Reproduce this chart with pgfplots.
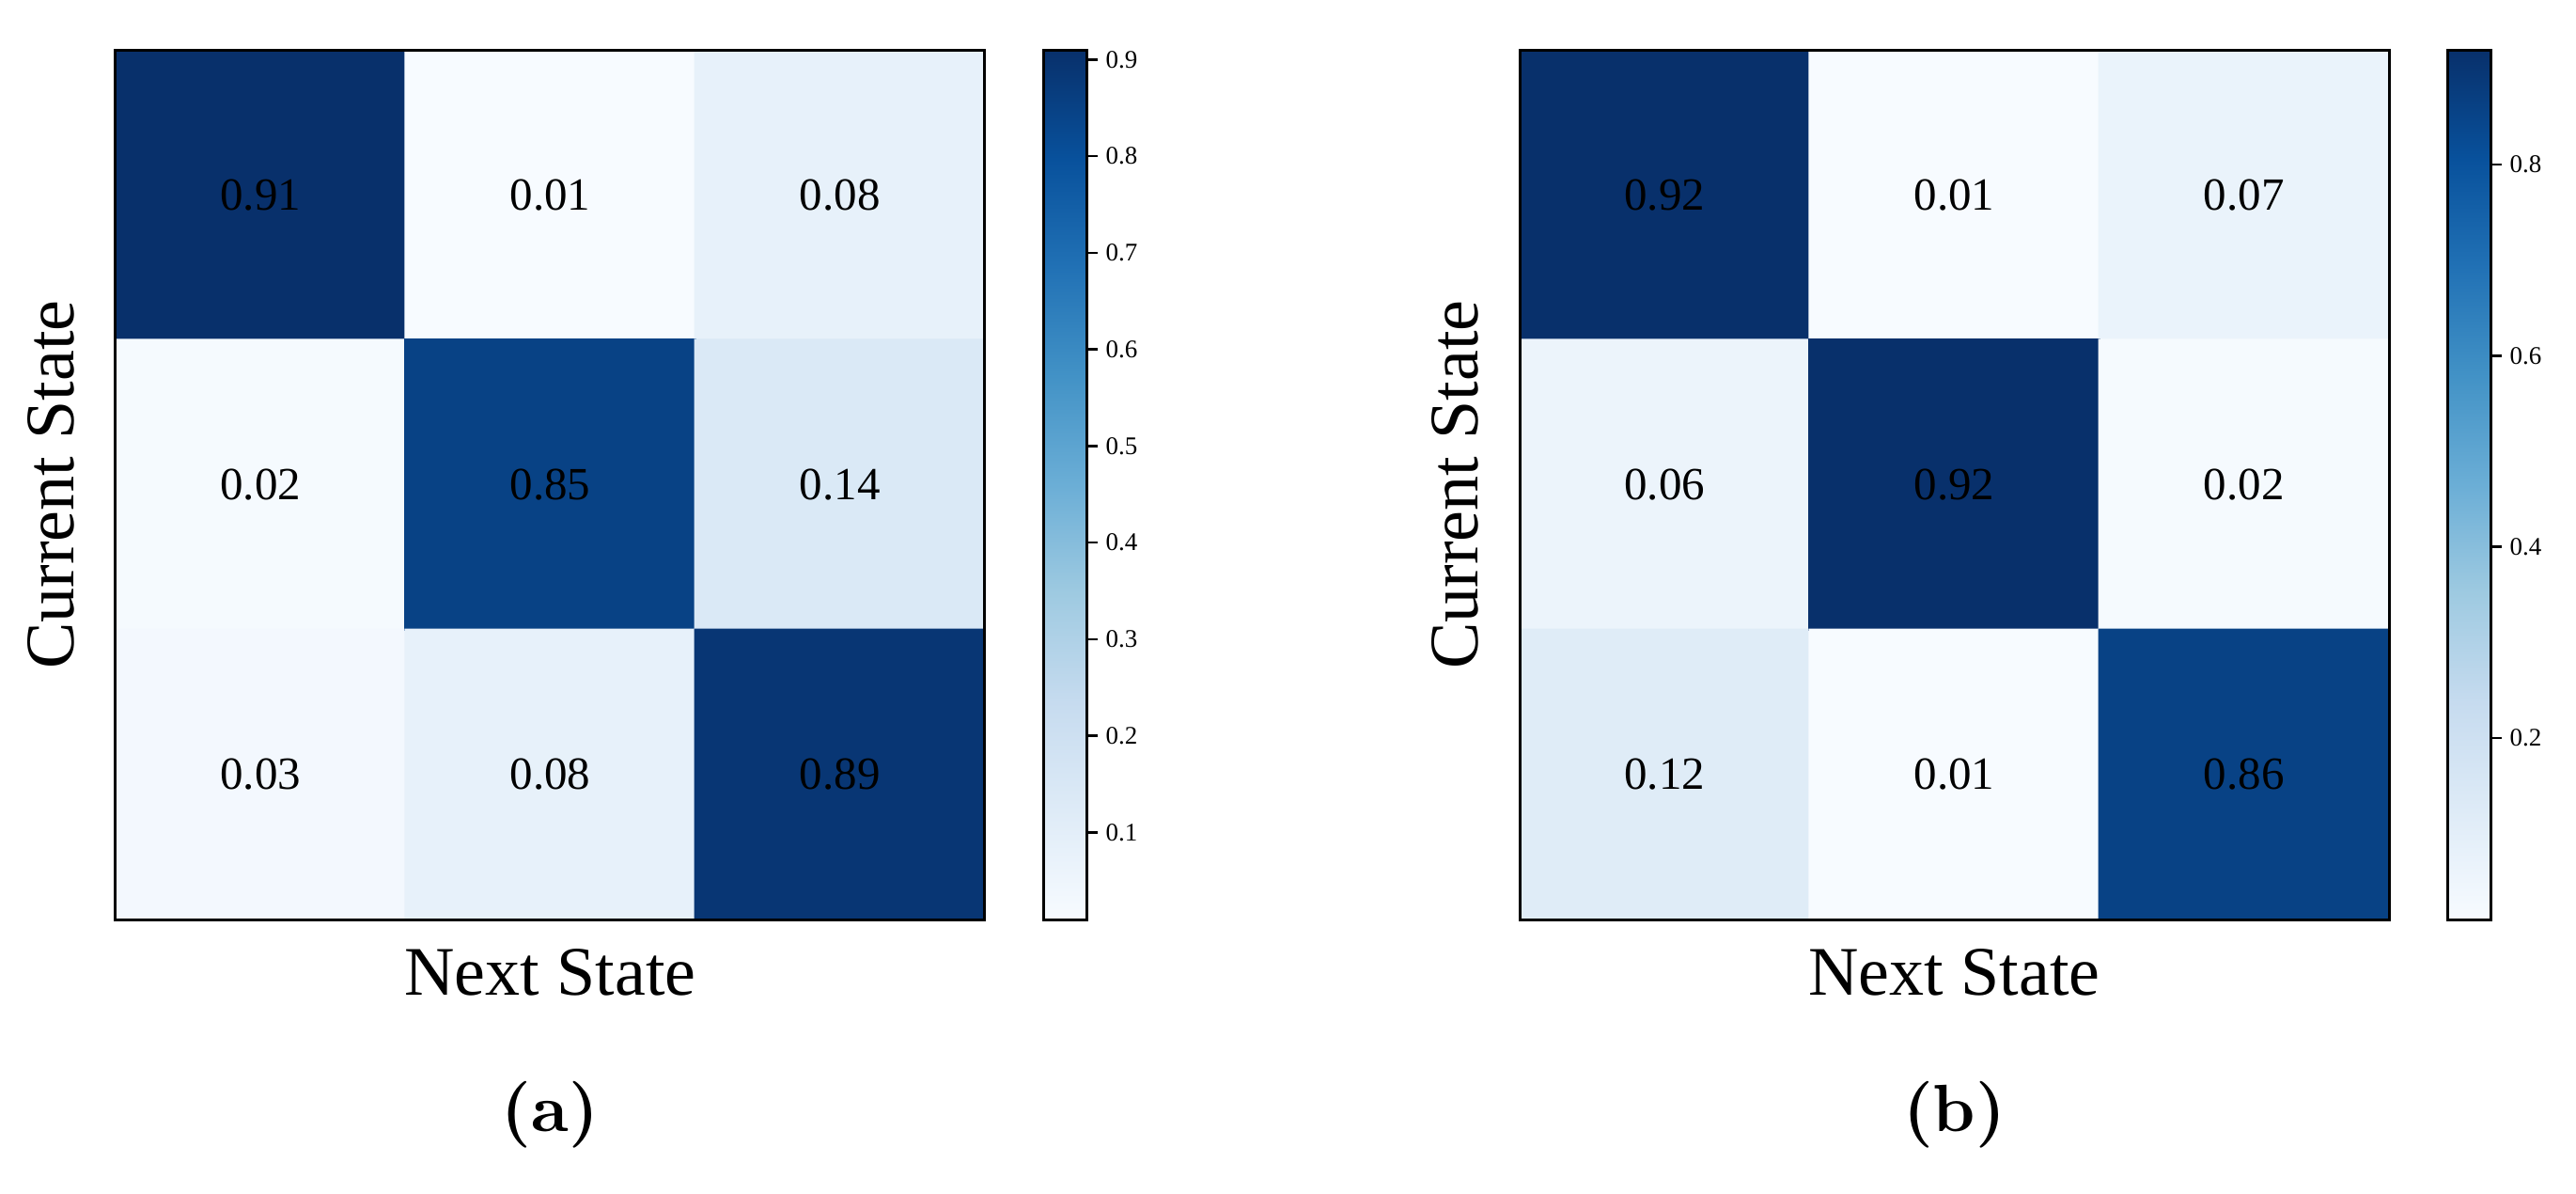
\documentclass[border=0pt]{standalone}
\usepackage{fontspec}
\setmainfont{Liberation Serif}
\newfontfamily\lmbold{lmroman10-bold.otf}
\usepackage{pgfplots}
\usepackage{pgfplotstable}
\pgfplotsset{compat=1.18}

% transition matrices (rows: current state, columns: next state)
\pgfplotstableread{
x y c
0 0 0.91
1 0 0.01
2 0 0.08
0 1 0.02
1 1 0.85
2 1 0.14
0 2 0.03
1 2 0.08
2 2 0.89
}\matA

\pgfplotstableread{
x y c
0 0 0.92
1 0 0.01
2 0 0.07
0 1 0.06
1 1 0.92
2 1 0.02
0 2 0.12
1 2 0.01
2 2 0.86
}\matB

\pgfplotsset{
  colormap={blues}{rgb255=(247,251,255) rgb255=(222,235,247) rgb255=(198,219,239)
    rgb255=(158,202,225) rgb255=(107,174,214) rgb255=(66,146,198)
    rgb255=(33,113,181) rgb255=(8,81,156) rgb255=(8,48,107)},
  heat/.style={
    scale only axis, width=185pt, height=185pt,
    xmin=-0.5, xmax=2.5, ymin=-0.5, ymax=2.5, y dir=reverse,
    xtick=\empty, ytick=\empty,
    axis line style={line width=0.6pt},
    axis on top,
    colormap name=blues,
    xlabel={Next State}, ylabel={Current State},
    label style={font=\fontsize{14.8}{16}\selectfont},
    xlabel style={at={(axis description cs:0.5,-0.0866)}, anchor=base, inner sep=0pt},
    ylabel style={at={(axis description cs:-0.0486,0.5)}, anchor=base, inner sep=0pt},
    title style={at={(axis description cs:0.5,-0.276)}, anchor=base, inner sep=0pt,
      font=\lmbold\fontsize{14.2}{16}\selectfont},
  },
  cbar/.style={
    scale only axis, width=9.2pt, height=185pt,
    xmin=0, xmax=1,
    xtick=\empty,
    axis line style={line width=0.6pt},
    axis on top,
    colormap name=blues,
    ytick pos=right, yticklabel pos=right,
    tick align=outside, major tick length=2.4pt,
    tick style={line width=0.5pt, black},
    yticklabel style={font=\fontsize{5.4}{6}\selectfont, inner sep=1.5pt},
    /pgf/number format/assume math mode=true,
  },
  grad/.style={surf, shader=interp, mesh/cols=2, point meta=y, draw=none},
}
\tikzset{cellnum/.style={anchor=center, text=black, inner sep=0pt,
  font=\fontsize{9.8}{11}\selectfont}}

% writes the value of every cell at its centre, read from the table
\newcommand\cellvalues[1]{%
  \pgfplotsforeachungrouped \i in {0,...,8}{%
    \pgfplotstablegetelem{\i}{x}\of#1\let\xx\pgfplotsretval
    \pgfplotstablegetelem{\i}{y}\of#1\let\yy\pgfplotsretval
    \pgfplotstablegetelem{\i}{c}\of#1\let\cc\pgfplotsretval
    \edef\temp{\noexpand\node[cellnum] at (axis cs:\xx,\yy) {\cc};}%
    \temp
  }%
}

\begin{document}
\begin{tikzpicture}
\path (0,0) rectangle (548.2pt,-254pt);

% colour bars
\begin{axis}[cbar, at={(222pt,-195.6pt)}, anchor=south west,
  ymin=0.01, ymax=0.91, point meta min=0.01, point meta max=0.91,
  ytick={0.1,0.2,0.3,0.4,0.5,0.6,0.7,0.8,0.9}]
\addplot[grad] coordinates {
(0,0.01) (1,0.01) (0,0.1225) (1,0.1225) (0,0.235) (1,0.235)
(0,0.3475) (1,0.3475) (0,0.46) (1,0.46) (0,0.5725) (1,0.5725)
(0,0.685) (1,0.685) (0,0.7975) (1,0.7975) (0,0.91) (1,0.91)};
\end{axis}

\begin{axis}[cbar, at={(520.8pt,-195.6pt)}, anchor=south west,
  ymin=0.01, ymax=0.92, point meta min=0.01, point meta max=0.92,
  ytick={0.2,0.4,0.6,0.8}]
\addplot[grad] coordinates {
(0,0.01) (1,0.01) (0,0.12375) (1,0.12375) (0,0.2375) (1,0.2375)
(0,0.35125) (1,0.35125) (0,0.465) (1,0.465) (0,0.57875) (1,0.57875)
(0,0.6925) (1,0.6925) (0,0.80625) (1,0.80625) (0,0.92) (1,0.92)};
\end{axis}

% (a)
\begin{axis}[heat, at={(24.6pt,-195.6pt)}, anchor=south west,
  point meta min=0.01, point meta max=0.91, title={(a)}]
\addplot[matrix plot*, mesh/cols=3, point meta=explicit] table[x=x, y=y, meta=c] {\matA};
\cellvalues{\matA}
\end{axis}

% (b)
\begin{axis}[heat, at={(323.4pt,-195.6pt)}, anchor=south west,
  point meta min=0.01, point meta max=0.92, title={(b)}]
\addplot[matrix plot*, mesh/cols=3, point meta=explicit] table[x=x, y=y, meta=c] {\matB};
\cellvalues{\matB}
\end{axis}
\end{tikzpicture}
\end{document}
